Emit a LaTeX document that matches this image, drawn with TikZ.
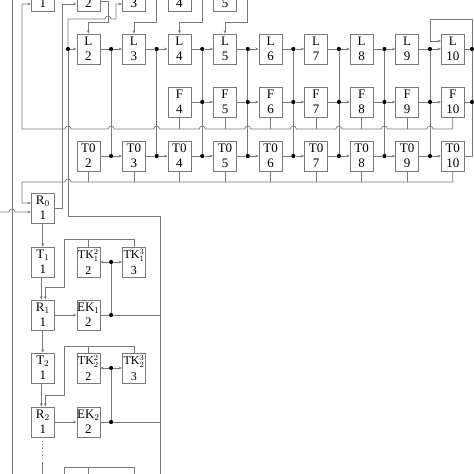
\documentclass[tikz,border=0pt]{standalone}
\usepackage{fontspec}
\setmainfont{Liberation Serif}
\usetikzlibrary{arrows.meta,calc}
\definecolor{wiregray}{HTML}{7A7A7A}

\begin{document}
\begin{tikzpicture}[
    x=1pt, y=-1pt,
    >={Stealth[length=3.5pt,width=2.8pt]},
    blockbox/.style={
        rectangle,
        draw=wiregray,
        line width=0.7pt,
        fill=white,
        minimum width=23pt,
        minimum height=30pt,
        inner sep=0pt,
        align=center,
        font=\fontsize{13}{15}\selectfont
    },
    tkbox/.style={blockbox, font=\fontsize{12}{16}\selectfont},
    wire/.style={draw=wiregray, line width=0.7pt},
    junction/.style={circle, inner sep=0pt, minimum size=4.2pt, fill=black}
]
    \useasboundingbox (0,0) rectangle (474,474);
    \clip (0,0) rectangle (474,474);

    % Bus heights and free ends
    \coordinate (fbus) at (0,129);
    \coordinate (tbus) at (0,182);
    \coordinate (loopR) at (472,19);
    \coordinate (loopL) at (430,19);
    \coordinate (ekturn) at (160,216);
    \coordinate (ekbot) at (160,480);
    \coordinate (c19) at (68,19);
    \coordinate (rise3) at (116,19);
    \coordinate (s2) at (108,22);
    \coordinate (rup) at (62,208);
    \coordinate (xin) at (-2,212);
    \coordinate (lt) at (12,-2);
    \coordinate (lb) at (12,478);

    % Top row (cut by the edge)
    \foreach \k in {1,...,5}
        \node[blockbox] (B\k) at ({42.8+45.55*(\k-1)}, -4) {\phantom{L}\\\k};

    % L, F and T0 rows
    \foreach \k in {2,...,10}
        \node[blockbox] (L\k) at ({42.8+45.55*(\k-1)}, 49) {L\\\k};
    \foreach \k in {4,...,10}
        \node[blockbox] (F\k) at ({42.8+45.55*(\k-1)}, 102) {F\\\k};
    \foreach \k in {2,...,10}
        \node[blockbox] (TZ\k) at ({42.8+45.55*(\k-1)}, 156) {T0\\\k};

    % Junctions of the rows
    \foreach \k in {2,...,9} {
        \node[junction] (jL\k) at ({65.58+45.55*(\k-1)}, 49) {};
        \node[junction] (jT\k) at ({65.58+45.55*(\k-1)}, 156) {};
    }
    \foreach \k in {4,...,9}
        \node[junction] (jF\k) at ({65.58+45.55*(\k-1)}, 102) {};
    \node[junction] (jL1) at (68,49) {};
    \node[junction] (jL10) at (472,49) {};
    \node[junction] (jF10) at (472,102) {};
    \foreach \k in {3,4,5}
        \coordinate (s\k) at ({65.58+45.55*(\k-1)}, 22);

    % R chain
    \node[blockbox] (R0) at (42.8,208) {R$_0$\\1};
    \node[blockbox] (T1) at (42.8,262) {T$_1$\\1};
    \node[tkbox] (TKa2) at (88.35,262) {TK$_1^2$\\2};
    \node[tkbox] (TKa3) at (133.9,262) {TK$_1^3$\\3};
    \node[blockbox] (R1) at (42.8,315) {R$_1$\\1};
    \node[blockbox] (EK1) at (88.35,315) {EK$_1$\\2};
    \node[blockbox] (T2) at (42.8,368) {T$_2$\\1};
    \node[tkbox] (TKb2) at (88.35,368) {TK$_2^2$\\2};
    \node[tkbox] (TKb3) at (133.9,368) {TK$_2^3$\\3};
    \node[blockbox] (R2) at (42.8,422) {R$_2$\\1};
    \node[blockbox] (EK2) at (88.35,422) {EK$_2$\\2};
    \node[junction] (jKa) at (111.1,262) {};
    \node[junction] (jEa) at (111.1,315) {};
    \node[junction] (jKb) at (111.1,368) {};
    \node[junction] (jEb) at (111.1,422) {};
    \coordinate (ka) at (64,239);
    \coordinate (kb) at (64,346);
    \coordinate (kn) at (64,467);
    \coordinate (knl) at (64,480);
    \coordinate (knm) at (88.35,480);
    \coordinate (knr) at (133.9,480);
    \coordinate (rdots) at (42.8,463);
    \coordinate (rbot) at (42.8,478);

    % Row links
    \foreach \k in {2,...,9} {
        \pgfmathtruncatemacro\nx{\k+1}
        \draw[wire] (L\k) -- (jL\k);
        \draw[wire,->] (jL\k) -- (L\nx);
        \draw[wire] (TZ\k) -- (jT\k);
        \draw[wire,->] (jT\k) -- (TZ\nx);
    }
    \foreach \k in {4,...,9} {
        \pgfmathtruncatemacro\nx{\k+1}
        \draw[wire] (F\k) -- (jF\k);
        \draw[wire,->] (jF\k) -- (F\nx);
    }
    \draw[wire,->] (jL1) -- (L2.west);

    % Columns
    \draw[wire] (jL2) -- (jT2);
    \draw[wire] (jL3) -- (jT3);
    \foreach \k in {4,...,9}
        \draw[wire] (jL\k) -- (jF\k) -- (jT\k);
    \draw[wire] (L10) -- (jL10);
    \draw[wire] (F10) -- (jF10);
    \draw[wire] (TZ10.east) -| (jF10);
    \draw[wire] (jF10) -- (jL10);
    \draw[wire,->] (jL10) -- (loopR) -- (loopL) |- ([yshift=8pt]L10.west);

    % Inputs from the top row
    \draw[wire,->] ([yshift=-5pt]B2.east) -| (s2) -| (L2.north);
    \foreach \k in {3,4,5}
        \draw[wire,->] ([yshift=8pt]B\k.east) -| (s\k) -| (L\k.north);

    % F bus to the first box
    \foreach \k in {4,...,9}
        \draw[wire] (F\k.south) -- (F\k.south |- fbus);
    \draw[wire,->] (F10.south) -- (F10.south |- fbus)
        \foreach \x in {429.98,384.43,338.88,293.33,247.78,202.23,156.68,111.13,68} {
            -- (\x+3,129) arc[start angle=0, end angle=180, radius=3pt]
        } -- (22,129) |- ([yshift=-8pt]B1.west);

    % T0 bus to R0
    \foreach \k in {2,...,9}
        \draw[wire] (TZ\k.south) -- (TZ\k.south |- tbus);
    \draw[wire,->] (TZ10.south) -- (TZ10.south |- tbus)
        -- (71,182) arc[start angle=0, end angle=180, radius=3pt]
        -- (22,182) |- ([yshift=5pt]R0.west);

    % R0 in and out
    \draw[wire,->] (xin) -- (9,212) arc[start angle=180, end angle=0, radius=3pt]
        -- ([yshift=-4pt]R0.west);
    \draw[wire,->] (R0.east) -- (rup) |- ([yshift=-8pt]B2.west);
    \draw[wire] (lt) -- (lb);

    % EK bus back to L2 and the third box
    \draw[wire] (EK1) -- (jEa) -- (jEa -| ekbot);
    \draw[wire] (EK2) -- (jEb) -- (jEb -| ekbot);
    \draw[wire] (ekbot) -- (ekturn) -| (jL1);
    \draw[wire,->] (jL1) -- (c19) -- (105,19) arc[start angle=180, end angle=0, radius=3pt]
        -- (rise3) |- ([yshift=-8pt]B3.west);

    % R chain links
    \draw[wire,->] (R0) -- (T1);
    \draw[wire,->] ([xshift=-1.5pt]T1.south) -- ([xshift=-1.5pt]R1.north);
    \draw[wire,->] (R1) -- (EK1);
    \draw[wire,->] (R1) -- (T2);
    \draw[wire,->] ([xshift=-1.5pt]T2.south) -- ([xshift=-1.5pt]R2.north);
    \draw[wire,->] (R2) -- (EK2);
    \draw[wire,dash pattern=on 1pt off 2.5pt,line width=1pt] (R2) -- (rdots);
    \draw[wire,->] (rdots) -- (rbot);

    % TK groups
    \draw[wire,->] (jKa) -- (TKa2);
    \draw[wire,->] (jKa) -- (TKa3);
    \draw[wire] (jKa) -- (jEa);
    \draw[wire] (TKa2.north) -- (TKa2.north |- ka);
    \draw[wire,->] (TKa3.north) |- (ka) |- ($(R1.north)+(2.5,-12)$) -- ([xshift=2.5pt]R1.north);
    \draw[wire,->] (jKb) -- (TKb2);
    \draw[wire,->] (jKb) -- (TKb3);
    \draw[wire] (jKb) -- (jEb);
    \draw[wire] (TKb2.north) -- (TKb2.north |- kb);
    \draw[wire,->] (TKb3.north) |- (kb) |- ($(R2.north)+(2.5,-11)$) -- ([xshift=2.5pt]R2.north);
    \draw[wire] (knl) -- (kn) -| (knr);
    \draw[wire] (knm) -- (knm |- kn);
\end{tikzpicture}
\end{document}
